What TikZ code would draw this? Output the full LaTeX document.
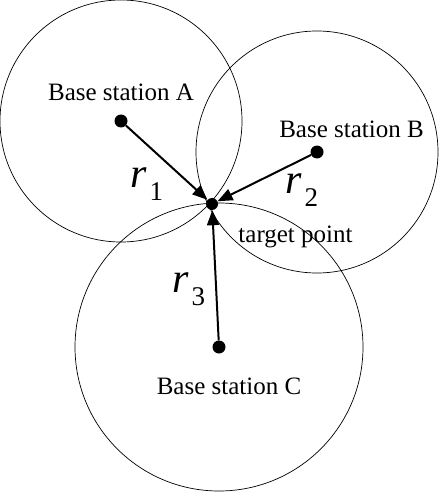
\documentclass[tikz,border=0pt]{standalone}
\usepackage{fontspec}
\setmainfont{Liberation Serif}
\usetikzlibrary{arrows.meta}
\newcommand{\rsub}[1]{{\fontsize{42}{46}\selectfont\itshape r}\hspace{3pt}\raisebox{-13pt}{\fontsize{27}{30}\selectfont #1}}
\begin{document}
\begin{tikzpicture}[x=1pt,y=-1pt,
  dot/.style={circle,fill=black,inner sep=0pt,minimum size=13pt},
  ring/.style={draw=black,line width=0.7pt},
  radiusline/.style={line width=2pt,-{Triangle[length=15pt,width=12pt]}},
  lbl/.style={font=\fontsize{25}{30}\selectfont,inner sep=0pt,anchor=base},
  rlbl/.style={inner sep=0pt,anchor=base west}]
\useasboundingbox (0,0) rectangle (439,492);
\draw[ring] (121,121) circle[radius=121pt];
\draw[ring] (317,152) circle[radius=121pt];
\draw[ring] (219,347) circle[radius=144pt];
\node[dot] (A) at (121,121) {};
\node[dot] (B) at (317,152) {};
\node[dot] (C) at (219,347) {};
\node[dot,minimum size=12pt] (T) at (212,204) {};
\draw[radiusline] (A) -- (T);
\draw[radiusline] (B) -- (T);
\draw[radiusline] (C) -- (T);
\node[lbl] (la) at (121,101) {Base station A};
\node[lbl] (lb) at (351.5,137) {Base station B};
\node[lbl] (lc) at (229,394) {Base station C};
\node[lbl] (lt) at (295.5,242) {target point};
\node[rlbl] (r1) at (130,187) {\rsub{1}};
\node[rlbl] (r2) at (285,193) {\rsub{2}};
\node[rlbl] (r3) at (172,292) {\rsub{3}};
\end{tikzpicture}
\end{document}
